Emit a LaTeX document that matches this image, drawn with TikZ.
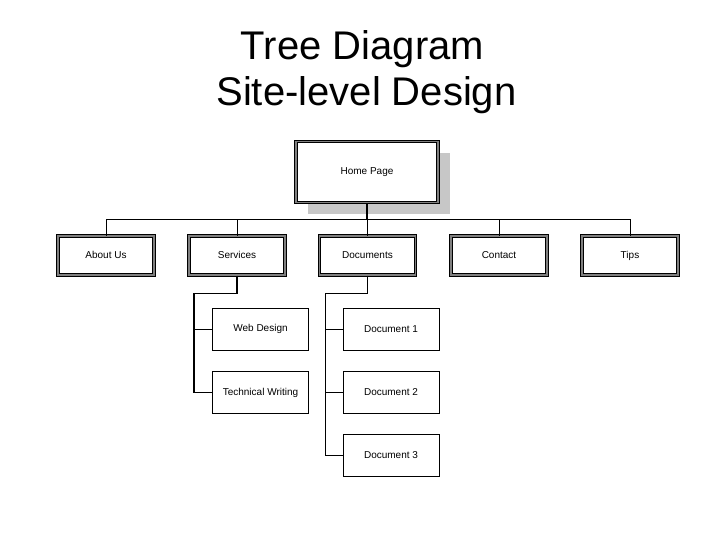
\documentclass[tikz,border=0pt]{standalone}
\usepackage{fontspec}
\setmainfont{Liberation Sans}
\usetikzlibrary{shadows}
\begin{document}
\begin{tikzpicture}[x=1pt,y=-1pt,
    framed/.style={draw=black,line width=1pt,double=black!50,double distance=1.6pt,
      fill=white,minimum width=96pt,minimum height=39pt,inner sep=0pt,
      text height=7.5pt,text depth=2pt,font=\fontsize{10}{12}\selectfont},
    leaf/.style={draw=black,line width=1pt,fill=white,minimum width=96pt,
      minimum height=42pt,inner sep=0pt,text height=7.5pt,text depth=2pt,
      font=\fontsize{10}{12}\selectfont},
    trunk/.style={line width=1.6pt},
    stub/.style={line width=0.8pt}]
  \useasboundingbox (0,0) rectangle (728,546);
  \node[anchor=base,font=\fontsize{40}{46}\selectfont] (title) at (362.5,59) {Tree Diagram};
  \node[anchor=base,font=\fontsize{40}{46}\selectfont] (subtitle) at (366.5,105) {Site-level Design};
  \node[framed,minimum width=142pt,minimum height=61pt,
    drop shadow={shadow xshift=12pt,shadow yshift=-11pt,fill=black!22,opacity=1}]
    (home) at (367,172) {Home Page};
  \draw
    (106,255.5) node[framed] (about){About Us}
    (237,255.5) node[framed] (services){Services}
    (367.5,255.5) node[framed] (documents){Documents}
    (499,255.5) node[framed] (contact){Contact}
    (630,255.5) node[framed] (tips){Tips};
  \draw
    (260.5,329) node[leaf] (web){Web Design}
    (260.5,392.5) node[leaf] (tech){Technical Writing}
    (391,329.5) node[leaf] (doc1){Document 1}
    (391,392.5) node[leaf] (doc2){Document 2}
    (391,455.5) node[leaf] (doc3){Document 3};
  \coordinate (bus) at (0,219);
  \begin{scope}[stub]
    \draw[trunk] (home.south) -- (home.south |- bus);
    \draw (about.north) |- (bus -| tips.north) -- (tips.north);
    \foreach \n in {services,documents,contact}
      \draw (\n.north) -- (\n.north |- bus);
    \draw[trunk] (services.south) -- ++(0,18) -| ([xshift=-18pt]tech.west) -- (tech.west);
    \draw (web.west) -- ++(-18,0);
    \draw[trunk] (documents.south) -- ++(0,18) -| ([xshift=-17pt]doc3.west);
    \foreach \n in {doc1,doc2,doc3}
      \draw (\n.west) -- ++(-17,0);
  \end{scope}
\end{tikzpicture}
\end{document}
